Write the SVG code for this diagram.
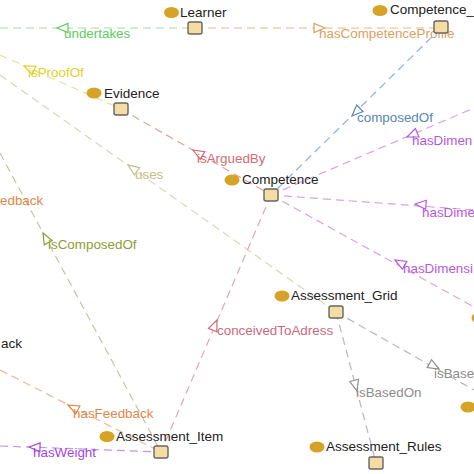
<svg xmlns="http://www.w3.org/2000/svg" width="474" height="474" viewBox="0 0 474 474">
<style>
.e{fill:none;stroke-width:1.2;stroke-dasharray:8 5}
.a{fill:#fff;stroke-width:1.2}
.l{font-family:"Liberation Sans",Arial,sans-serif;font-size:13.4px}
.n{font-family:"Liberation Sans",Arial,sans-serif;font-size:13.5px;fill:#222}
.c{fill:#d6a326}
.s{fill:#f5dca2;stroke:#666;stroke-width:1.4}
</style>
<defs>
<path id="tri" d="M0,0 L-11,-4.5 L-11,4.5 Z"/>
</defs>
<rect width="474" height="474" fill="#fff"/>
<g id="connectors">
<line class="e" x1="0" y1="28" x2="195" y2="28" stroke="#a9d9a9"/>
<line class="e" x1="195" y1="28" x2="441" y2="28" stroke="#e2bc92"/>
<line class="e" x1="0" y1="55" x2="121" y2="109" stroke="#ece08c"/>
<line class="e" x1="121" y1="109" x2="271" y2="195" stroke="#e2a2a2"/>
<line class="e" x1="441" y1="28" x2="271" y2="195" stroke="#8cb2da"/>
<line class="e" x1="271" y1="195" x2="474" y2="108" stroke="#d8a2ea"/>
<line class="e" x1="271" y1="195" x2="474" y2="210" stroke="#d8a2ea"/>
<line class="e" x1="271" y1="195" x2="474" y2="307" stroke="#d8a2ea"/>
<line class="e" x1="0" y1="75" x2="336" y2="312" stroke="#dcd6b8"/>
<line class="e" x1="336" y1="312" x2="474" y2="390" stroke="#b8b8b8"/>
<line class="e" x1="336" y1="312" x2="376" y2="463" stroke="#b8b8b8"/>
<line class="e" x1="0" y1="153" x2="161" y2="452" stroke="#c4c4a4"/>
<line class="e" x1="271" y1="195" x2="161" y2="452" stroke="#e2a4b2"/>
<line class="e" x1="0" y1="370" x2="161" y2="452" stroke="#eab99a"/>
<line class="e" x1="0" y1="446" x2="161" y2="452" stroke="#c892ea"/>

<use href="#tri" class="a" stroke="#5ccc5c" transform="translate(57,28) rotate(180)"/>
<use href="#tri" class="a" stroke="#dba062" transform="translate(325,28) rotate(0)"/>
<use href="#tri" class="a" stroke="#e6cf2a" transform="translate(24,66) rotate(204)"/>
<use href="#tri" class="a" stroke="#d46a72" transform="translate(193,150) rotate(210)"/>
<use href="#tri" class="a" stroke="#5a86b6" transform="translate(352,116) rotate(135.5)"/>
<use href="#tri" class="a" stroke="#b658dc" transform="translate(407,137) rotate(157)"/>
<use href="#tri" class="a" stroke="#b658dc" transform="translate(415,204) rotate(184)"/>
<use href="#tri" class="a" stroke="#b658dc" transform="translate(395,260) rotate(209)"/>
<use href="#tri" class="a" stroke="#c2c084" transform="translate(128,165) rotate(215)"/>
<use href="#tri" class="a" stroke="#8c8c8c" transform="translate(439,369) rotate(29)"/>
<use href="#tri" class="a" stroke="#8c8c8c" transform="translate(357,391) rotate(75)"/>
<use href="#tri" class="a" stroke="#8e9c34" transform="translate(43,233) rotate(241.7)"/>
<use href="#tri" class="a" stroke="#cc6a7a" transform="translate(217,320) rotate(293)"/>
<use href="#tri" class="a" stroke="#e2864a" transform="translate(68,405) rotate(207)"/>
<use href="#tri" class="a" stroke="#a046e2" transform="translate(29,447) rotate(182)"/>

<text class="l" x="64" y="38" fill="#5ccc5c">undertakes</text>
<text class="l" x="319" y="38" fill="#dba062">hasCompetenceProfile</text>
<text class="l" x="28" y="77" fill="#e6cf2a">isProofOf</text>
<text class="l" x="197" y="163" fill="#d46a72">isArguedBy</text>
<text class="l" x="357" y="122" fill="#5a86b6">composedOf</text>
<text class="l" x="412" y="145" fill="#b658dc">hasDimen</text>
<text class="l" x="422" y="217" fill="#b658dc">hasDime</text>
<text class="l" x="403" y="273" fill="#b658dc">hasDimensi</text>
<text class="l" x="135" y="179" fill="#c2c084">uses</text>
<text class="l" x="434" y="378" fill="#8c8c8c">isBase</text>
<text class="l" x="356" y="397" fill="#8c8c8c">isBasedOn</text>
<text class="l" x="48" y="249" fill="#8e9c34">isComposedOf</text>
<text class="l" x="217" y="335" fill="#cc6a7a">conceivedToAdress</text>
<text class="l" x="73" y="418" fill="#e2864a">hasFeedback</text>
<text class="l" x="0" y="205" fill="#e2864a">edback</text>
<text class="l" x="33" y="457" fill="#a046e2">hasWeight</text>
</g>
<g id="Learner">
<ellipse class="c" cx="171.5" cy="12.5" rx="7.5" ry="5.5"/>
<text class="n" x="180" y="17">Learner</text>
<rect class="s" x="188" y="22" width="14" height="12" rx="2"/>
</g>
<g id="Competence_Profile">
<ellipse class="c" cx="380" cy="10.5" rx="7.5" ry="5.5"/>
<text class="n" x="390" y="14">Competence_</text>
<rect class="s" x="434" y="21" width="14" height="12" rx="2"/>
</g>
<g id="Evidence">
<ellipse class="c" cx="94" cy="93" rx="7.5" ry="5.5"/>
<text class="n" x="104" y="98">Evidence</text>
<rect class="s" x="114" y="103" width="14" height="12" rx="2"/>
</g>
<g id="Competence">
<ellipse class="c" cx="232" cy="180" rx="7.5" ry="5.5"/>
<text class="n" x="242" y="184">Competence</text>
<rect class="s" x="264" y="189" width="14" height="12" rx="2"/>
</g>
<g id="Assessment_Grid">
<ellipse class="c" cx="282" cy="296" rx="7.5" ry="5.5"/>
<text class="n" x="291" y="300">Assessment_Grid</text>
<rect class="s" x="329" y="306" width="14" height="12" rx="2"/>
</g>
<g id="Assessment_Rules">
<ellipse class="c" cx="317" cy="447" rx="7.5" ry="5.5"/>
<text class="n" x="326" y="451">Assessment_Rules</text>
<rect class="s" x="369" y="457" width="14" height="12" rx="2"/>
</g>
<g id="Assessment_Item">
<ellipse class="c" cx="107" cy="436.5" rx="7.5" ry="5.5"/>
<text class="n" x="116" y="441">Assessment_Item</text>
<rect class="s" x="154" y="446" width="14" height="12" rx="2"/>
</g>
<g id="Feedback">
<text class="n" x="1" y="348">ack</text>
</g>
<g id="Dimension">
<ellipse class="c" cx="479" cy="318" rx="7.5" ry="5.5"/>
</g>
<g id="Rule">
<ellipse class="c" cx="468" cy="407" rx="7.5" ry="5.5"/>
</g>
</svg>
